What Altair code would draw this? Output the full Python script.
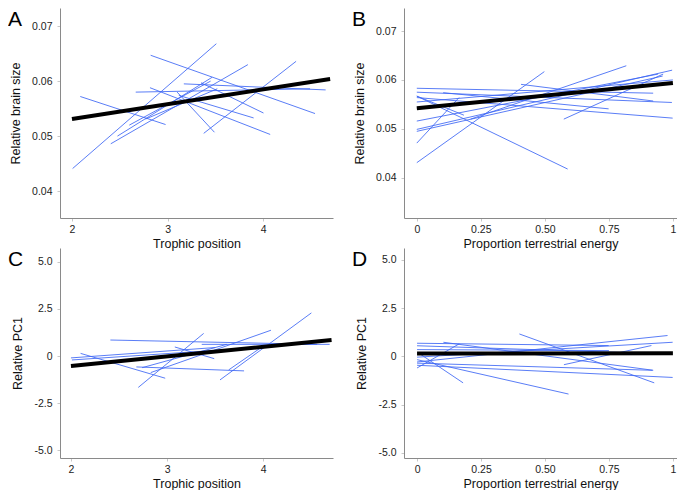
import altair as alt

# segment endpoints: x0, y0 -> x1, y1
A_X0 = [2.007, 2.823, 2.087, 2.406, 2.476, 2.77, 3.378, 3.17, 2.667, 2.816, 3.10, 3.118, 3.35, 2.60]
A_Y0 = [0.0441, 0.0647, 0.0572, 0.0486, 0.0500, 0.0531, 0.0505, 0.0595, 0.0580, 0.0588, 0.0580, 0.0574, 0.0597, 0.0520]
A_X1 = [3.51, 4.542, 2.979, 3.84, 3.466, 3.52, 4.344, 4.653, 4.49, 4.073, 3.49, 3.90, 4.003, 3.45]
A_Y1 = [0.0668, 0.0541, 0.0521, 0.0630, 0.0607, 0.0586, 0.0636, 0.0584, 0.0586, 0.0503, 0.0507, 0.0533, 0.0542, 0.0600]
A_FIT = [(2.0, 0.0531), (4.70, 0.0604)]

B_X0 = [0.0, 0.0, 0.0, 0.0, 0.0, 0.0, 0.0, 0.103, 0.0, 0.0, 0.0, 0.21, 0.574, 0.407, 0.0]
B_Y0 = [0.0431, 0.0471, 0.0567, 0.0567, 0.0583, 0.0575, 0.0564, 0.0574, 0.0499, 0.0495, 0.0516, 0.0520, 0.0520, 0.0591, 0.0555]
B_X1 = [0.498, 0.165, 0.589, 0.184, 0.923, 0.996, 0.999, 0.749, 0.997, 0.96, 0.942, 0.818, 0.962, 0.923, 1.0]
B_Y1 = [0.0617, 0.0564, 0.0418, 0.0528, 0.0573, 0.0554, 0.0522, 0.0541, 0.0620, 0.0608, 0.0612, 0.0629, 0.0612, 0.0557, 0.0600]
B_FIT = [(0.0, 0.0542), (1.0, 0.0594)]

C_X0 = [2.41, 2.10, 2.70, 3.55, 3.64, 2.83, 2.68, 3.08, 2.01, 3.36, 2.74, 2.0]
C_Y0 = [0.85, 0.14, -1.67, -1.27, -0.74, -0.88, -0.58, 0.48, -0.21, 0.62, -0.62, -0.1]
C_X1 = [4.56, 2.98, 3.38, 4.50, 4.00, 4.08, 3.80, 3.49, 3.97, 4.69, 3.62, 3.5]
C_Y1 = [0.62, -1.18, 1.20, 2.29, 0.53, 1.37, -0.79, -0.14, 0.46, 0.62, 0.62, 0.45]
C_FIT = [(2.0, -0.53), (4.71, 0.85)]

D_X0 = [0.40, 0.0, 0.103, 0.0, 0.01, 0.0, 0.0, 0.0, 0.0, 0.574, 0.0, 0.0, 0.0]
D_Y0 = [1.16, 0.68, 0.73, -0.60, 0.14, -0.17, -0.29, -0.04, -0.46, -0.43, -0.35, 0.55, 0.35]
D_X1 = [0.927, 0.749, 0.923, 0.165, 0.18, 0.592, 0.979, 0.999, 0.999, 0.916, 0.92, 0.80, 0.75]
D_Y1 = [-1.37, 0.56, -0.72, 0.65, -1.37, -1.95, 1.08, 0.73, -1.09, 0.56, -0.72, 0.20, 0.30]
D_FIT = [(0.0, 0.15), (1.0, 0.16)]

TROPHIC_TICKS = [2, 3, 4]
ENERGY_TICKS = [0, 0.25, 0.5, 0.75, 1]
BRAIN_TICKS = [0.04, 0.05, 0.06, 0.07]
PC1_TICKS = [-5, -2.5, 0, 2.5, 5]

FONT = "Liberation Sans"
BLUE = "#3d66f5"

TROPHIC_LABELS = "format(datum.value, 'd')"
ENERGY_LABELS = "datum.value == 0 ? '0' : datum.value == 1 ? '1' : format(datum.value, '.2f')"
BRAIN_LABELS = "format(datum.value, '.2f')"
PC1_LABELS = "datum.value == 0 ? '0' : (datum.value < 0 ? '-' : '') + format(abs(datum.value), '.1f')"


def panel(letter, x0, y0, x1, y1, fit, xdom, ydom, xticks, yticks, xtitle, ytitle,
          xlabels, ylabels):
    segs = [{"x": a, "y": b, "x2": c, "y2": d} for a, b, c, d in zip(x0, y0, x1, y1)]
    fit_row = [{"x": fit[0][0], "y": fit[0][1], "x2": fit[1][0], "y2": fit[1][1]}]

    xs = alt.Scale(domain=xdom, nice=False, zero=False)
    ys = alt.Scale(domain=ydom, nice=False, zero=False)

    lines = alt.Chart(alt.Data(values=segs)).mark_rule(
        color=BLUE, strokeWidth=1, opacity=0.85
    ).encode(
        x=alt.X("x:Q", scale=xs, axis=alt.Axis(values=xticks, title=xtitle, labelExpr=xlabels)),
        y=alt.Y("y:Q", scale=ys, axis=alt.Axis(values=yticks, title=ytitle, labelExpr=ylabels)),
        x2="x2:Q",
        y2="y2:Q",
    )
    fitline = alt.Chart(alt.Data(values=fit_row)).mark_rule(
        color="black", strokeWidth=4
    ).encode(x="x:Q", y="y:Q", x2="x2:Q", y2="y2:Q")
    label = alt.Chart(alt.Data(values=[{"t": letter}])).mark_text(
        align="left", baseline="top", fontSize=21, font=FONT, color="black"
    ).encode(x=alt.value(-52), y=alt.value(1), text="t:N")

    return alt.layer(lines, fitline, label).properties(width=273, height=210)


pa = panel("A", A_X0, A_Y0, A_X1, A_Y1, A_FIT, [1.875, 4.73], [0.0351, 0.0733],
           TROPHIC_TICKS, BRAIN_TICKS, "Trophic position", "Relative brain size",
           TROPHIC_LABELS, BRAIN_LABELS)
pb = panel("B", B_X0, B_Y0, B_X1, B_Y1, B_FIT, [-0.05, 1.016], [0.0318, 0.0747],
           ENERGY_TICKS, BRAIN_TICKS, "Proportion terrestrial energy", "Relative brain size",
           ENERGY_LABELS, BRAIN_LABELS)
pc = panel("C", C_X0, C_Y0, C_X1, C_Y1, C_FIT, [1.886, 4.725], [-5.42, 5.74],
           TROPHIC_TICKS, PC1_TICKS, "Trophic position", "Relative PC1",
           TROPHIC_LABELS, PC1_LABELS)
pd_ = panel("D", D_X0, D_Y0, D_X1, D_Y1, D_FIT, [-0.051, 1.016], [-5.26, 5.61],
            ENERGY_TICKS, PC1_TICKS, "Proportion terrestrial energy", "Relative PC1",
            ENERGY_LABELS, PC1_LABELS)

chart = alt.concat(
    pa, pb, pc, pd_,
    columns=2,
    spacing={"row": 30, "column": 71},
    bounds="flush",
).properties(
    padding={"left": 0, "top": 0, "right": 0, "bottom": 0}
).configure_view(
    stroke=None
).configure_axis(
    grid=False,
    domainColor="#8a8a8a",
    domainWidth=1,
    tickColor="#c8c8c8",
    tickSize=3,
    labelFont=FONT,
    labelFontSize=10.5,
    labelColor="#222222",
    labelPadding=3,
    titleFont=FONT,
    titleFontSize=12.5,
    titleFontWeight="normal",
    titleColor="#111111",
).configure_axisY(
    labelPadding=5,
    titlePadding=9,
).configure_axisX(
    titlePadding=3,
)

chart.save("out.html", embed_options={"renderer": "svg", "actions": False})
